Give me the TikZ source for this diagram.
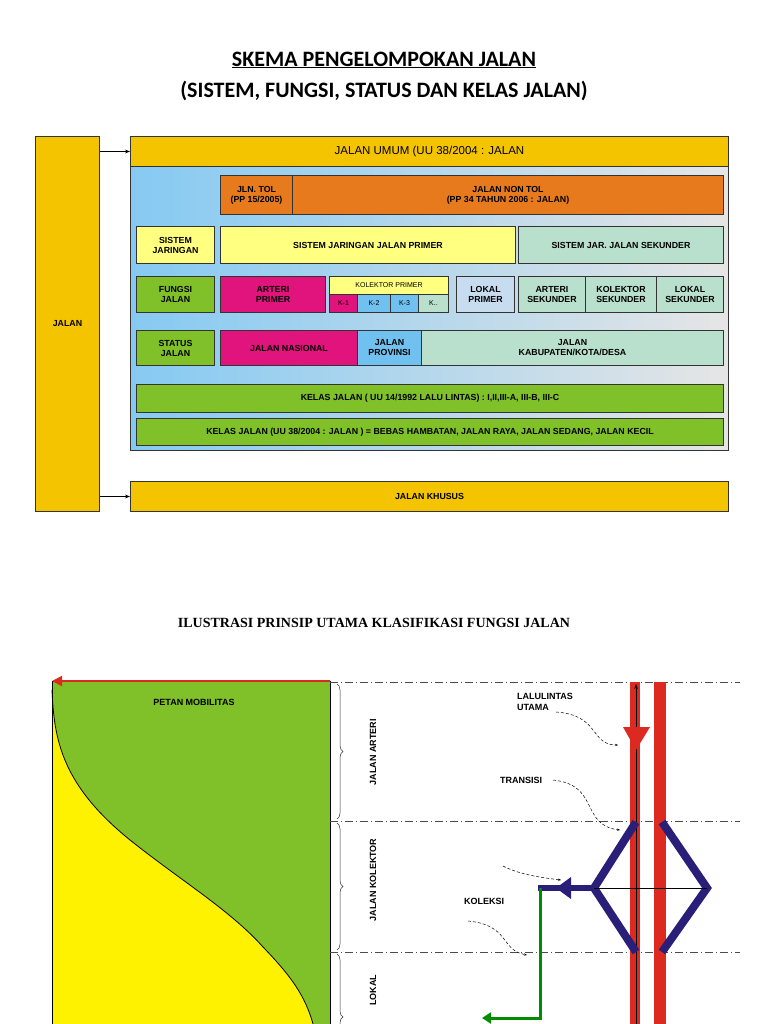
\documentclass[tikz,border=0pt]{standalone}
\usepackage{fontspec}
\setmainfont{Liberation Sans}
\newfontfamily\titlefont{Carlito}
\newfontfamily\serifbold{Liberation Serif}
\usetikzlibrary{arrows.meta,decorations.pathreplacing}
\definecolor{gold}{HTML}{F5C400}
\definecolor{orng}{HTML}{E87A1E}
\definecolor{lyel}{HTML}{FFFF80}
\definecolor{mint}{HTML}{B8E0CC}
\definecolor{grn}{HTML}{80C028}
\definecolor{mag}{HTML}{E0147C}
\definecolor{lblue}{HTML}{70C0F0}
\definecolor{lgrey}{HTML}{C8DCF0}
\definecolor{navy}{HTML}{2A1F78}
\definecolor{rred}{HTML}{DC2A20}
\definecolor{yel}{HTML}{FFF200}
\tikzset{
 bx/.style={draw=black!80,line width=1pt,inner sep=0pt,align=center,font=\fontsize{8.8}{10}\selectfont\bfseries},
 lbl/.style={font=\fontsize{9}{11}\selectfont\bfseries,align=left,inner sep=0pt},
 dd/.style={densely dashed,line width=0.5pt,-{Stealth[length=3pt]}},
 dashdot/.style={dash pattern=on 8pt off 3pt on 1pt off 3pt,line width=0.4pt,black!70}
}
\newcommand{\bxat}[7]{\node[bx,fill=#5,minimum width=#3-#1,minimum height=#4-#2,anchor=north west] (#6) at (#1,#2) {#7};}
\begin{document}
\begin{tikzpicture}[x=1pt,y=-1pt]
\useasboundingbox (0,0) rectangle (768,1024);
\node[font=\titlefont\fontsize{22}{24}\selectfont\bfseries] (t1) at (384,60) {\underline{SKEMA PENGELOMPOKAN JALAN}};
\node[font=\titlefont\fontsize{22}{24}\selectfont\bfseries] (t2) at (384,91) {(SISTEM, FUNGSI, STATUS DAN KELAS JALAN)};
% panel
\shade[left color=lblue!85,right color=gray!20] (130,166) rectangle (728,450);
\draw[black!80,line width=1pt] (130,166) rectangle (728,450);
\bxat{35}{136}{99}{511}{gold}{jalan}{JALAN}
\node[bx,fill=gold,minimum width=598,minimum height=30,anchor=north west,font=\fontsize{11.5}{13}\selectfont] (umum) at (130,136) {JALAN UMUM (UU 38/2004 : JALAN};
\bxat{130}{481}{728}{511}{gold}{khusus}{JALAN KHUSUS}
\draw[-{Stealth[length=5pt]},line width=0.8pt] (jalan.east |- umum.west) -- (umum.west);
\draw[-{Stealth[length=5pt]},line width=0.8pt] (jalan.east |- khusus.west) -- (khusus.west);
\bxat{220}{175}{292}{214}{orng}{tol}{JLN. TOL\\(PP 15/2005)}
\bxat{292}{175}{723}{214}{orng}{nontol}{JALAN NON TOL\\(PP 34 TAHUN 2006 : JALAN)}
\bxat{136}{226}{214}{263}{lyel}{sj}{SISTEM\\JARINGAN}
\bxat{220}{226}{515}{263}{lyel}{sjp}{SISTEM JARINGAN JALAN PRIMER}
\bxat{518}{226}{723}{263}{mint}{sjs}{SISTEM JAR. JALAN SEKUNDER}
\bxat{136}{276}{214}{312}{grn}{fj}{FUNGSI\\JALAN}
\bxat{220}{276}{325}{312}{mag}{ap}{ARTERI\\PRIMER}
\node[bx,fill=lyel,minimum width=119,minimum height=18,anchor=north west,font=\fontsize{7}{8}\selectfont] (kp) at (329,276) {KOLEKTOR PRIMER};
\node[bx,fill=mag,minimum width=28,minimum height=18,anchor=north west,font=\fontsize{7}{8}\selectfont] (k1) at (329,294) {K-1};
\node[bx,fill=lblue,minimum width=33,minimum height=18,anchor=north west,font=\fontsize{7}{8}\selectfont] (k2) at (357,294) {K-2};
\node[bx,fill=lblue,minimum width=28,minimum height=18,anchor=north west,font=\fontsize{7}{8}\selectfont] (k3) at (390,294) {K-3};
\node[bx,fill=mint,minimum width=30,minimum height=18,anchor=north west,font=\fontsize{7}{8}\selectfont] (k4) at (418,294) {K..};
\bxat{456}{276}{514}{312}{lgrey}{lp}{LOKAL\\PRIMER}
\bxat{518}{276}{585}{312}{mint}{as}{ARTERI\\SEKUNDER}
\bxat{585}{276}{656}{312}{mint}{ks}{KOLEKTOR\\SEKUNDER}
\bxat{656}{276}{723}{312}{mint}{ls}{LOKAL\\SEKUNDER}
\bxat{136}{330}{214}{365}{grn}{stj}{STATUS\\JALAN}
\bxat{220}{330}{357}{365}{mag}{jn}{JALAN NASIONAL}
\bxat{357}{330}{421}{365}{lblue}{jpv}{JALAN\\PROVINSI}
\bxat{421}{330}{723}{365}{mint}{jk}{JALAN\\KABUPATEN/KOTA/DESA}
\bxat{136}{384}{723}{412}{grn}{kj1}{KELAS JALAN ( UU 14/1992 LALU LINTAS) : I,II,III-A, III-B, III-C}
\bxat{136}{418}{723}{445}{grn}{kj2}{KELAS JALAN (UU 38/2004 : JALAN ) = BEBAS HAMBATAN, JALAN RAYA, JALAN SEDANG, JALAN KECIL}
% illustration
\node[font=\serifbold\fontsize{14}{16}\selectfont\bfseries] (t3) at (374,623) {ILUSTRASI PRINSIP UTAMA KLASIFIKASI FUNGSI JALAN};
\fill[grn] (52,681) rectangle (330,1024);
\fill[yel] (52,1024) -- (52,690) .. controls (54,740) and (62,785) .. (130,840) .. controls (180,880) and (230,910) .. (263,947) .. controls (290,975) and (305,995) .. (313,1024) -- cycle;
\draw[line width=0.8pt] (52,690) .. controls (54,740) and (62,785) .. (130,840) .. controls (180,880) and (230,910) .. (263,947) .. controls (290,975) and (305,995) .. (313,1024);
\draw[line width=0.8pt] (52,1024) -- (52,681) -- (330,681) -- (330,1024);
\coordinate (rs) at (330,681); \coordinate (re) at (52,681);
\draw[rred,line width=2pt,-{Triangle[length=10pt,width=10pt]}] (rs) -- (re);
\node[lbl] (pm) at (194,702) {PETAN MOBILITAS};
\foreach \yy in {682,821,952} \draw[dashdot] (330,\yy) -- (740,\yy);
\draw[decorate,decoration={brace,amplitude=6pt},line width=0.5pt,black!80] (337,684) -- (337,819);
\draw[decorate,decoration={brace,amplitude=6pt},line width=0.5pt,black!80] (337,823) -- (337,950);
\draw[decorate,decoration={brace,amplitude=6pt},line width=0.5pt,black!80] (337,954) -- (337,1080);
\node[lbl,rotate=90] (la) at (373,752) {JALAN ARTERI};
\node[lbl,rotate=90] (lk) at (373,880) {JALAN KOLEKTOR};
\node[lbl,rotate=90] (ll) at (373,990) {LOKAL};
% roads
\draw[rred,line width=10pt] (635,682) -- (635,1024);
\draw[rred,line width=12pt] (660,682) -- (660,1024);
\coordinate (ab) at (636,1024); \coordinate (at) at (636,684);
\draw[line width=0.6pt,-{Stealth[length=5pt]}] (ab) -- (at);
\fill[rred] (623,727) -- (650,727) -- (636,750) -- cycle;
\draw[navy,line width=8pt] (636,822) -- (594,888) -- (636,952);
\draw[navy,line width=8pt] (662,822) -- (707,888) -- (662,952);
\coordinate (gs) at (538,888); \coordinate (ge) at (482,1018);
\draw[navy,line width=6pt] (gs) -- (596,888);
\fill[navy] (556,888) -- (571,877) -- (571,899) -- cycle;
\draw[line width=0.6pt] (594,888) -- (707,888);
\draw[green!55!black,line width=3pt,-{Triangle[length=9pt,width=11pt]}] (540,888) -- (540,1018) -- (ge);
\node[lbl] (lu) at (545,702) {LALULINTAS\\UTAMA};
\node[lbl] (tr) at (521,780) {TRANSISI};
\node[lbl] (ko) at (484,901) {KOLEKSI};
\draw[dd] (556,712) .. controls (600,715) and (590,745) .. (618,745);
\draw[dd] (553,780) .. controls (600,785) and (580,825) .. (620,830);
\draw[dd] (503,866) .. controls (520,875) and (545,878) .. (561,880);
\draw[dd] (468,921) .. controls (510,925) and (500,950) .. (527,955);
\end{tikzpicture}
\end{document}
